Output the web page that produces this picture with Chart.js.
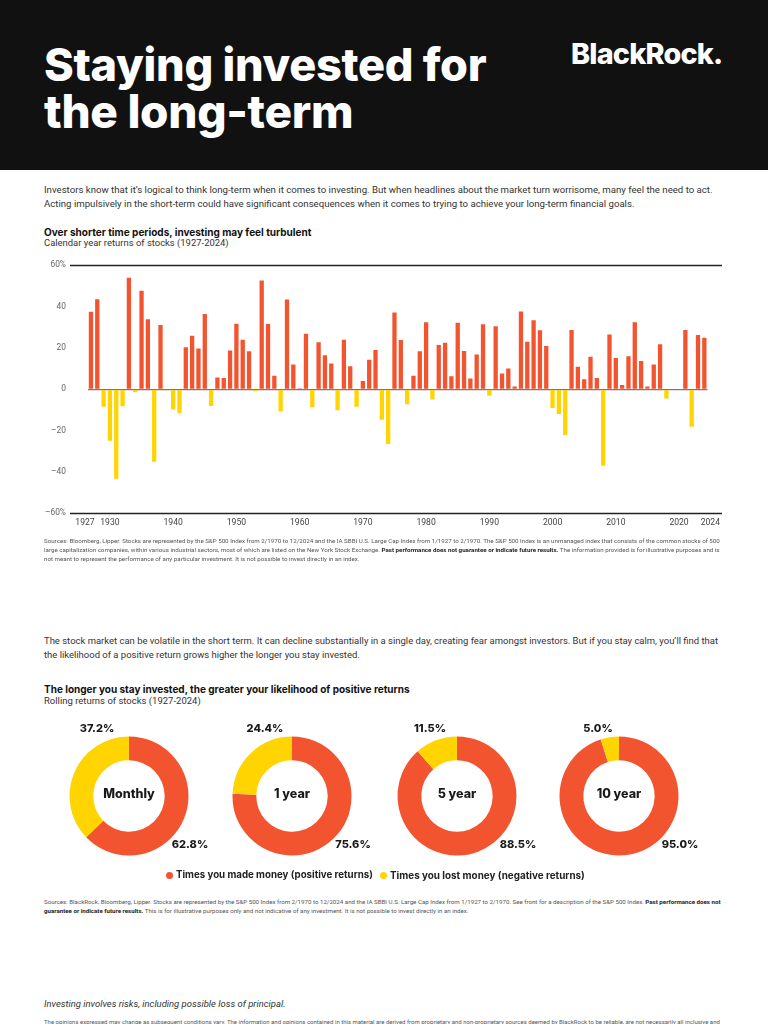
<!DOCTYPE html>
<html>
<head>
<meta charset="utf-8">
<script src="https://cdn.jsdelivr.net/npm/chart.js@4.4.1/dist/chart.umd.min.js"></script>
<style>
  html, body { margin: 0; padding: 0; }
  body { width: 768px; height: 1024px; position: relative; overflow: hidden; background: #fff; font-family: Roboto, sans-serif; color: #333; }
  .band { position: absolute; left: 0; top: 0; width: 768px; height: 170px; background: #111; }
  .ln { position: absolute; white-space: nowrap; }
  .title { color: #fff; font-family: Inter, sans-serif; font-weight: 800; font-size: 42px; line-height: 47px; letter-spacing: -0.3px; }
  .logo { color: #fff; font-family: Inter, sans-serif; font-weight: 800; font-size: 27px; line-height: 30px; letter-spacing: -0.8px; }
  .body { font-size: 9.5px; line-height: 14px; color: #333; }
  .head { font-family: Inter, sans-serif; font-weight: 700; font-size: 9.5px; line-height: 12px; color: #111; }
  .sub { font-size: 9.5px; line-height: 12px; color: #333; }
  .note { font-size: 6px; line-height: 9px; color: #555; }
  .note b { color: #222; }
  .leg { font-family: Inter, sans-serif; font-weight: 700; font-size: 9.5px; line-height: 12px; color: #222; }
  .dot { position: absolute; width: 7px; height: 7px; border-radius: 50%; }
  .ital { font-style: italic; font-size: 10px; line-height: 12px; color: #333; }
  .box { position: absolute; }
</style>
</head>
<body>
<div class="band"></div>
<div class="ln title" style="left:44px;top:41px" data-w="442">Staying invested for</div>
<div class="ln title" style="left:44px;top:88px" data-w="309">the long-term</div>
<div class="ln logo" style="left:571px;top:39px" data-w="151">BlackRock.</div>

<div class="ln body" style="left:44px;top:183px" data-w="669">Investors know that it’s logical to think long-term when it comes to investing. But when headlines about the market turn worrisome, many feel the need to act.</div>
<div class="ln body" style="left:44px;top:197px">Acting impulsively in the short-term could have significant consequences when it comes to trying to achieve your long-term financial goals.</div>

<div class="ln head" style="left:44px;top:226px" data-w="268">Over shorter time periods, investing may feel turbulent</div>
<div class="ln sub" style="left:44px;top:237px" data-w="185">Calendar year returns of stocks (1927-2024)</div>

<div class="box" style="left:0;top:250px;width:768px;height:290px"><canvas id="barChart"></canvas></div>

<div class="ln note" style="left:44px;top:536.5px" data-w="678">Sources: Bloomberg, Lipper. Stocks are represented by the S&amp;P 500 Index from 2/1970 to 12/2024 and the IA SBBI U.S. Large Cap Index from 1/1927 to 2/1970. The S&amp;P 500 Index is an unmanaged index that consists of the common stocks of 500</div>
<div class="ln note" style="left:44px;top:545.5px" data-w="678">large capitalization companies, within various industrial sectors, most of which are listed on the New York Stock Exchange. <b>Past performance does not guarantee or indicate future results.</b> The information provided is for illustrative purposes and is</div>
<div class="ln note" style="left:44px;top:554.5px">not meant to represent the performance of any particular investment. It is not possible to invest directly in an index.</div>

<div class="ln body" style="left:44px;top:634px" data-w="675">The stock market can be volatile in the short term. It can decline substantially in a single day, creating fear amongst investors. But if you stay calm, you’ll find that</div>
<div class="ln body" style="left:44px;top:648px">the likelihood of a positive return grows higher the longer you stay invested.</div>

<div class="ln head" style="left:44px;top:683px" data-w="366">The longer you stay invested, the greater your likelihood of positive returns</div>
<div class="ln sub" style="left:44px;top:695px" data-w="157">Rolling returns of stocks (1927-2024)</div>

<div id="donuts"></div>

<span class="dot" style="left:165.5px;top:871.5px;background:#F25430"></span>
<div class="ln leg" style="left:176px;top:869px" data-w="197">Times you made money (positive returns)</div>
<span class="dot" style="left:379.5px;top:871.5px;background:#FFD400"></span>
<div class="ln leg" style="left:390px;top:869px" data-w="195">Times you lost money (negative returns)</div>

<div class="ln note" style="left:44px;top:897.5px" data-w="678">Sources: BlackRock, Bloomberg, Lipper. Stocks are represented by the S&amp;P 500 Index from 2/1970 to 12/2024 and the IA SBBI U.S. Large Cap Index from 1/1927 to 2/1970. See front for a description of the S&amp;P 500 Index. <b>Past performance does not</b></div>
<div class="ln note" style="left:44px;top:906.5px"><b>guarantee or indicate future results.</b> This is for illustrative purposes only and not indicative of any investment. It is not possible to invest directly in an index.</div>

<div class="ln ital" style="left:44px;top:998px" data-w="242">Investing involves risks, including possible loss of principal.</div>
<div class="ln note" style="left:44px;top:1016.5px" data-w="678">The opinions expressed may change as subsequent conditions vary. The information and opinions contained in this material are derived from proprietary and non-proprietary sources deemed by BlackRock to be reliable, are not necessarily all inclusive and</div>

<script>
// Calendar year returns (%), 1927-2024 — 2019 and 2020 have no bar in the source
const years = [
    1927, 1928, 1929, 1930, 1931, 1932, 1933, 1934, 1935, 1936, 1937, 1938, 1939,
    1940, 1941, 1942, 1943, 1944, 1945, 1946, 1947, 1948, 1949,
    1950, 1951, 1952, 1953, 1954, 1955, 1956, 1957, 1958, 1959,
    1960, 1961, 1962, 1963, 1964, 1965, 1966, 1967, 1968, 1969,
    1970, 1971, 1972, 1973, 1974, 1975, 1976, 1977, 1978, 1979,
    1980, 1981, 1982, 1983, 1984, 1985, 1986, 1987, 1988, 1989,
    1990, 1991, 1992, 1993, 1994, 1995, 1996, 1997, 1998, 1999,
    2000, 2001, 2002, 2003, 2004, 2005, 2006, 2007, 2008, 2009,
    2010, 2011, 2012, 2013, 2014, 2015, 2016, 2017, 2018, 2019,
    2020, 2021, 2022, 2023, 2024
];
const annualReturns = [
    37.5, 43.6, -8.4, -24.9, -43.3, -8.2, 54.0, -1.4, 47.7, 33.9, -35.0, 31.1, -0.4,
    -9.8, -11.6, 20.3, 25.9, 19.8, 36.4, -8.1, 5.7, 5.5, 18.8,
    31.7, 24.0, 18.4, -1.0, 52.6, 31.6, 6.6, -10.8, 43.4, 12.0,
    0.5, 26.9, -8.7, 22.8, 16.5, 12.5, -10.1, 24.0, 11.1, -8.5,
    4.0, 14.3, 19.0, -14.7, -26.5, 37.2, 23.8, -7.2, 6.6, 18.4,
    32.4, -4.9, 21.4, 22.5, 6.3, 32.2, 18.5, 5.2, 16.8, 31.5,
    -3.1, 30.5, 7.6, 10.1, 1.3, 37.6, 23.0, 33.4, 28.6, 21.0,
    -9.1, -11.9, -22.1, 28.7, 10.9, 4.9, 15.8, 5.5, -37.0, 26.5,
    15.1, 2.1, 16.0, 32.4, 13.7, 1.4, 12.0, 21.8, -4.4, null,
    null, 28.7, -18.1, 26.3, 25.0
];
const yearTicks = [1927, 1930, 1940, 1950, 1960, 1970, 1980, 1990, 2000, 2010, 2020, 2024];
const yTicks = [-60, -40, -20, 0, 20, 40, 60];

// Rolling returns (%)
const periods = ['Monthly', '1 year', '5 year', '10 year'];
const positivePct = [62.8, 75.6, 88.5, 95.0];
const negativePct = [37.2, 24.4, 11.5, 5.0];

const ORANGE = '#F25430';
const YELLOW = '#FFD400';

// shrink/grow each text line to the width it has in the original
function fitLines() {
    let lastSize = null;
    document.querySelectorAll('.ln').forEach(el => {
        if (el.dataset.w) {
            const fs = parseFloat(getComputedStyle(el).fontSize);
            const w = el.getBoundingClientRect().width;
            lastSize = fs * (+el.dataset.w) / w;
            el.style.fontSize = lastSize + 'px';
        } else if (lastSize) {
            el.style.fontSize = lastSize + 'px';
        }
    });
}
fitLines();

Chart.defaults.font.family = 'Roboto';
Chart.defaults.animation = false;

// top/bottom rules wider than the plot, y labels sitting left of the rules,
// year labels under it (first and last pushed outward so they don't collide)
const frameLines = {
    id: 'frameLines',
    afterDraw(chart) {
        const { ctx, chartArea, scales: { x, y } } = chart;
        ctx.save();
        ctx.strokeStyle = '#222';
        ctx.lineWidth = 1.4;
        [60, -60].forEach(v => {
            const py = Math.round(y.getPixelForValue(v)) + 0.5;
            ctx.beginPath();
            ctx.moveTo(70, py);
            ctx.lineTo(722, py);
            ctx.stroke();
        });

        ctx.fillStyle = '#666';
        ctx.font = '8.4px Roboto';
        ctx.textAlign = 'right';
        ctx.textBaseline = 'middle';
        yTicks.forEach(v => {
            const txt = Math.abs(v) === 60 ? v + '%' : String(v);
            ctx.fillText(txt.replace('-', '\u2013'), 66, y.getPixelForValue(v));
        });

        ctx.fillStyle = '#444';
        ctx.font = '8.6px Roboto';
        ctx.textAlign = 'center';
        yearTicks.forEach((yr, k) => {
            let px = x.getPixelForValue(years.indexOf(yr));
            if (k === 0) px -= 6;
            if (k === yearTicks.length - 1) px += 6;
            ctx.fillText(String(yr), px, chartArea.bottom + 10);
        });
        ctx.restore();
    }
};

new Chart(document.getElementById('barChart'), {
    type: 'bar',
    data: {
        labels: years.map(String),
        datasets: [{
            data: annualReturns,
            backgroundColor: annualReturns.map(v => v !== null && v < 0 ? YELLOW : ORANGE),
            barPercentage: 0.68,
            categoryPercentage: 1
        }]
    },
    options: {
        responsive: true,
        maintainAspectRatio: false,
        layout: { padding: { left: 0, right: 60.5, top: 15.3, bottom: 26.7 } },
        plugins: { legend: { display: false }, tooltip: { enabled: false } },
        scales: {
            x: {
                display: false
            },
            y: {
                min: -60,
                max: 60,
                afterBuildTicks: s => { s.ticks = yTicks.map(v => ({ value: v })); },
                afterFit: s => { s.width = 87.8; },
                grid: {
                    drawTicks: false,
                    color: c => c.tick.value === 0 ? '#7a7a7a' : 'rgba(0,0,0,0)',
                    lineWidth: 1.2
                },
                border: { display: false },
                ticks: { display: false }
            }
        }
    },
    plugins: [frameLines]
});

// donut labels: period name in the hole, percentages outside
const donutText = {
    id: 'donutText',
    afterDraw(chart, args, opts) {
        const arc = chart.getDatasetMeta(0).data[0];
        const vals = chart.data.datasets[0].data;
        const ctx = chart.ctx;
        ctx.save();
        ctx.fillStyle = '#1a1a1a';
        ctx.textAlign = 'center';
        ctx.textBaseline = 'middle';
        ctx.font = '800 12.5px Inter';
        ctx.fillText(opts.title, arc.x, arc.y - 2);
        ctx.font = '800 11px Inter';
        ctx.fillText(vals[1].toFixed(1) + '%', arc.x + opts.negDx, arc.y - 67);
        ctx.fillText(vals[0].toFixed(1) + '%', arc.x + 61, arc.y + 49);
        ctx.restore();
    }
};

const donutCx = [128.5, 292, 456.7, 618.7];
const negDx = [-32, -27, -27, -21];
const holder = document.getElementById('donuts');

periods.forEach((p, i) => {
    const box = document.createElement('div');
    box.className = 'box';
    box.style.cssText = `left:${donutCx[i] - 85}px;top:${796.2 - 80}px;width:170px;height:160px`;
    const cv = document.createElement('canvas');
    box.appendChild(cv);
    holder.appendChild(box);

    new Chart(cv, {
        type: 'doughnut',
        data: {
            labels: ['Times you made money (positive returns)', 'Times you lost money (negative returns)'],
            datasets: [{
                data: [positivePct[i], negativePct[i]],
                backgroundColor: [ORANGE, YELLOW],
                borderWidth: 0
            }]
        },
        options: {
            responsive: true,
            maintainAspectRatio: false,
            cutout: '60%',
            layout: { padding: { left: 25.5, right: 25.5, top: 20.5, bottom: 20.5 } },
            plugins: {
                legend: { display: false },
                tooltip: { enabled: false },
                donutText: { title: p, negDx: negDx[i] }
            }
        },
        plugins: [donutText]
    });
});
</script>
</body>
</html>
